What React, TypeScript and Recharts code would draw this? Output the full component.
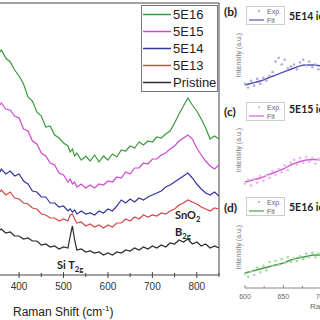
import {
  LineChart,
  Line,
  XAxis,
  YAxis,
  Legend,
  ReferenceLine,
  ComposedChart,
  Scatter,
} from "recharts";

const FONT = '"Liberation Sans", Arial, sans-serif';
const BOLD_FONT = 'Lato, "Liberation Sans", sans-serif';

// Raman shift (cm^-1) sampling of the stacked spectra
const shifts = [
  357, 360, 370, 380, 390, 400, 410, 420, 430, 440, 450, 460, 470, 480, 490, 500, 510, 515, 520, 525,
  530, 540, 550, 560, 570, 580, 590, 600, 610, 620, 630, 640, 650, 660, 670, 680, 690, 700, 710, 720,
  730, 740, 750, 760, 770, 780, 790, 800, 810, 820, 830, 840, 850,
];

// offset intensities (a.u.), one array per fluence
const pristine = [
  45, 46, 42, 43, 39, 39, 36, 37, 34, 34, 30, 31, 28, 29, 26, 28, 27, 39, 49, 35,
  25, 26, 23, 24, 22, 23, 20, 22, 20, 23, 22, 25, 24, 27, 25, 28, 26, 29, 27, 30,
  28, 32, 31, 35, 33, 36, 31, 33, 29, 31, 27, 29, 27,
];
const dose5e13 = [
  83, 85, 80, 83, 77, 76, 72, 71, 67, 66, 61, 60, 57, 57, 54, 56, 54, 60, 61, 56,
  52, 53, 49, 51, 48, 50, 47, 50, 48, 52, 52, 56, 54, 58, 56, 60, 58, 60, 59, 62,
  61, 64, 66, 70, 72, 75, 73, 71, 68, 66, 64, 67, 66,
];
const dose5e14 = [
  103, 106, 101, 104, 99, 101, 94, 91, 84, 83, 78, 78, 72, 72, 68, 69, 64, 66, 63, 65,
  61, 64, 61, 62, 60, 64, 62, 66, 64, 69, 75, 72, 76, 73, 77, 75, 78, 80, 82, 84,
  88, 90, 93, 96, 99, 102, 97, 91, 86, 82, 80, 83, 79,
];
const dose5e15 = [
  170, 172, 166, 165, 159, 157, 146, 144, 134, 131, 122, 119, 112, 110, 102, 100, 93, 96, 91, 93,
  88, 91, 87, 90, 87, 91, 90, 94, 93, 98, 97, 103, 101, 107, 107, 112, 111, 116, 116, 120,
  122, 126, 129, 134, 137, 140, 136, 127, 120, 114, 109, 106, 110,
];
const dose5e16 = [
  223, 225, 217, 213, 205, 199, 191, 178, 174, 163, 159, 148, 149, 140, 137, 132, 129, 123, 126, 119,
  122, 115, 119, 114, 120, 113, 119, 115, 121, 118, 125, 124, 129, 127, 133, 130, 134, 133, 138, 137,
  141, 144, 152, 161, 169, 177, 170, 164, 156, 147, 136, 139, 136,
];

const shiftTicks = [400, 450, 500, 550, 600, 650, 700, 750, 800, 850];
const legendOrder = ["5E16", "5E15", "5E14", "5E13", "Pristine"];

// SnO2 band fits, 600-720 cm^-1
const expShifts = [
  600, 604, 608, 612, 616, 620, 624, 628, 632, 636, 640, 644, 648, 652, 656, 660, 664, 668, 672,
  676, 680, 684, 688, 692, 696, 700,
];
const fitShifts = [600, 610, 620, 630, 640, 650, 660, 670, 680, 690, 700, 710, 720];
const panelTicks = [600, 625, 650, 675, 700, 725, 750, 775, 800];

const exp5e14 = [17, 13, 20, 15, 22, 17, 23, 20, 25, 29, 40, 44, 37, 42, 33, 35, 37, 32, 39, 42, 36, 40, 34, 37, 32, 39];
const fit5e14 = [15.6, 17.7, 19.8, 22.9, 26, 29, 32, 35, 36.4, 36.4, 35.4, 34, 33];
const exp5e15 = [12, 16, 10, 17, 13, 20, 15, 21, 18, 25, 21, 27, 24, 31, 26, 34, 37, 32, 39, 34, 40, 35, 39, 33, 38, 35];
const fit5e15 = [13.7, 15.8, 17.9, 21.1, 24.2, 27.4, 31.6, 34.7, 36.8, 37.4, 36.8, 36.3, 35.8];
const exp5e16 = [15, 12, 18, 14, 22, 17, 24, 19, 28, 24, 29, 25, 31, 27, 33, 28, 32, 29, 34, 31, 37, 33, 38, 33, 37, 34];
const fit5e16 = [16.1, 18.3, 20.4, 22.6, 24.7, 26.9, 30.1, 32.3, 33.9, 35.5, 35.5, 35.5, 34.9];

const spectra = shifts.map((w, i) => ({
  w,
  pristine: pristine[i],
  e13: dose5e13[i],
  e14: dose5e14[i],
  e15: dose5e15[i],
  e16: dose5e16[i],
}));

function ShiftTick(props: any) {
  const { x, y, payload } = props;
  const major = payload.value % 100 === 0;
  const len = major ? 3 : 2;
  return (
    <g>
      <line x1={x} x2={x} y1={y - len} y2={y + len} stroke="#444" />
      {major && payload.value < 850 && (
        <text x={x} y={y + 15} textAnchor="middle" fontSize={10} fill="#333" fontFamily={FONT}>
          {payload.value}
        </text>
      )}
    </g>
  );
}

function PanelTick(props: any) {
  const { x, y, payload } = props;
  const major = payload.value % 50 === 0;
  return (
    <g>
      <line x1={x} x2={x} y1={y} y2={y - (major ? 3 : 2)} stroke="#888" />
      {major && (
        <text x={x} y={y + 11} textAnchor="middle" fontSize={7} fill="#666" fontFamily={FONT}>
          {payload.value}
        </text>
      )}
    </g>
  );
}

function SampleLegend({ payload }: any) {
  const entries = payload ?? [];
  const rows = legendOrder
    .map((name) => entries.find((p: any) => p.value === name))
    .filter(Boolean);
  return (
    <div
      style={{
        width: 77,
        border: "1px solid #777",
        background: "#fff",
        boxSizing: "border-box",
      }}
    >
      {rows.map((p: any) => (
        <div key={p.value} style={{ display: "flex", alignItems: "center", height: 17 }}>
          <svg width={31} height={17}>
            <line x1={1} x2={29} y1={8.5} y2={8.5} stroke={p.color} strokeWidth={1.5} />
          </svg>
          <span style={{ fontSize: 13, fontFamily: FONT, color: "#222", lineHeight: "17px" }}>{p.value}</span>
        </div>
      ))}
    </div>
  );
}

function SpectraChart() {
  return (
    <div style={{ position: "absolute", left: 0, top: 0 }}>
      <LineChart width={220} height={320} data={spectra} margin={{ top: 3, right: 1, bottom: 0, left: 0 }}>
        <XAxis
          dataKey="w"
          type="number"
          domain={[357, 850]}
          ticks={shiftTicks}
          interval={0}
          tickSize={0}
          tickMargin={0}
          tickLine={false}
          tick={(p: any) => <ShiftTick {...p} />}
          axisLine={{ stroke: "#444" }}
          height={45}
          allowDataOverflow
        />
        <YAxis hide domain={[0, 272]} />
        <ReferenceLine x={850} stroke="#444" />
        <ReferenceLine y={272} stroke="#444" />
        <Line name="Pristine" dataKey="pristine" stroke="#2a2a2a" strokeWidth={1.2} dot={false} isAnimationActive={false} />
        <Line name="5E13" dataKey="e13" stroke="#d24848" strokeWidth={1.2} dot={false} isAnimationActive={false} />
        <Line name="5E14" dataKey="e14" stroke="#3535a0" strokeWidth={1.2} dot={false} isAnimationActive={false} />
        <Line name="5E15" dataKey="e15" stroke="#cf48cf" strokeWidth={1.2} dot={false} isAnimationActive={false} />
        <Line name="5E16" dataKey="e16" stroke="#3a9a3a" strokeWidth={1.2} dot={false} isAnimationActive={false} />
        <Legend
          layout="vertical"
          align="center"
          verticalAlign="middle"
          wrapperStyle={{ top: 5, left: 141, width: 77 }}
          content={(p: any) => <SampleLegend {...p} />}
        />
      </LineChart>
    </div>
  );
}

type PanelProps = {
  top: number;
  height: number;
  axis: boolean;
  exp: number[];
  fit: number[];
  line: string;
  dot: string;
};

// the chart box starts 15px left of the frame so the first tick label is not clipped
function FitPanel({ top, height, axis, exp, fit, line, dot }: PanelProps) {
  const expRows = expShifts.map((w, i) => ({ w, v: exp[i] }));
  const fitRows = fitShifts.map((w, i) => ({ w, v: fit[i] }));
  return (
    <div style={{ position: "absolute", left: 230, top }}>
      <ComposedChart width={169} height={height} margin={{ top: 1, right: 1, bottom: 0, left: 15 }}>
        <XAxis
          dataKey="w"
          type="number"
          domain={[600, 800]}
          hide={!axis}
          ticks={panelTicks}
          interval={0}
          tickSize={0}
          tickMargin={0}
          tickLine={false}
          tick={(p: any) => <PanelTick {...p} />}
          axisLine={{ stroke: "#888" }}
          height={22}
        />
        <XAxis
          xAxisId="top"
          orientation="top"
          type="number"
          domain={[600, 800]}
          height={0}
          tick={false}
          tickLine={false}
          axisLine={{ stroke: "#888" }}
        />
        <YAxis domain={[0, 100]} width={0} tick={false} tickLine={false} axisLine={{ stroke: "#888" }} />
        <Scatter
          data={expRows}
          dataKey="v"
          isAnimationActive={false}
          shape={(p: any) => <circle cx={p.cx} cy={p.cy} r={1.3} fill={dot} />}
        />
        <Line
          data={fitRows}
          dataKey="v"
          type="monotone"
          stroke={line}
          strokeWidth={1.4}
          dot={false}
          isAnimationActive={false}
        />
        <Legend
          layout="vertical"
          align="center"
          verticalAlign="middle"
          wrapperStyle={{ top: 3, left: 16, width: 39 }}
          content={() => (
            <svg width={39} height={19} style={{ display: "block" }}>
              <rect x={0.5} y={0.5} width={38} height={18} fill="#fff" stroke="#ccc" />
              <circle cx={13} cy={5} r={1.2} fill={dot} />
              <line x1={3} x2={18} y1={14} y2={14} stroke={line} strokeWidth={1.2} />
              <text x={21} y={7.5} fontSize={7} fill="#666" fontFamily={FONT}>Exp.</text>
              <text x={21} y={16.5} fontSize={7} fill="#666" fontFamily={FONT}>Fit</text>
            </svg>
          )}
        />
      </ComposedChart>
    </div>
  );
}

const abs = (left: number, top: number, extra: any = {}) => ({
  position: "absolute" as const,
  left,
  top,
  whiteSpace: "nowrap" as const,
  lineHeight: 1,
  ...extra,
});

const bold = { fontFamily: BOLD_FONT, fontWeight: 700, color: "#222" };
const sub = { fontSize: "0.7em", position: "relative" as const, top: 3 };

function IntensityLabel({ cy }: { cy: number }) {
  return (
    <div
      style={abs(238, cy, {
        fontSize: 7,
        color: "#777",
        fontFamily: FONT,
        transform: "translate(-50%, -50%) rotate(-90deg)",
      })}
    >
      Intensity (a.u.)
    </div>
  );
}

export default function App() {
  return (
    <div
      style={{
        position: "absolute",
        left: 0,
        top: 0,
        width: 320,
        height: 320,
        overflow: "hidden",
        background: "#fff",
        fontFamily: FONT,
      }}
    >
      <SpectraChart />
      <div style={abs(13, 306, { fontSize: 12, color: "#222" })}>
        Raman Shift (cm<span style={{ fontSize: 8, position: "relative", top: -5 }}>-1</span>)
      </div>
      <div style={abs(57, 259, { ...bold, fontSize: 11 })}>
        Si T<span style={sub}>2g</span>
      </div>
      <div style={abs(175, 209, { ...bold, fontSize: 11 })}>
        SnO<span style={sub}>2</span>
      </div>
      <div style={abs(175, 226, { ...bold, fontSize: 11 })}>
        B<span style={sub}>2g</span>
      </div>

      <FitPanel top={3} height={97} axis={false} exp={exp5e14} fit={fit5e14} line="#5252b3" dot="#aeaee0" />
      <FitPanel top={99} height={96} axis={false} exp={exp5e15} fit={fit5e15} line="#d45cd4" dot="#ecb4ec" />
      <FitPanel top={194} height={116} axis={true} exp={exp5e16} fit={fit5e16} line="#4a9e4a" dot="#acd8ac" />

      <div style={abs(224, 6, { ...bold, fontSize: 12 })}>(b)</div>
      <div style={abs(224, 106, { ...bold, fontSize: 12 })}>(c)</div>
      <div style={abs(224, 202, { ...bold, fontSize: 12 })}>(d)</div>
      <IntensityLabel cy={55} />
      <IntensityLabel cy={150} />
      <IntensityLabel cy={247} />
      <div style={abs(289, 11, { ...bold, fontSize: 10.5 })}>5E14 ions/cm²</div>
      <div style={abs(289, 104, { ...bold, fontSize: 10.5 })}>5E15 ions/cm²</div>
      <div style={abs(289, 202, { ...bold, fontSize: 10.5 })}>5E16 ions/cm²</div>
      <div style={abs(310, 303, { fontSize: 8, color: "#666" })}>Raman Shift (cm⁻¹)</div>
    </div>
  );
}
